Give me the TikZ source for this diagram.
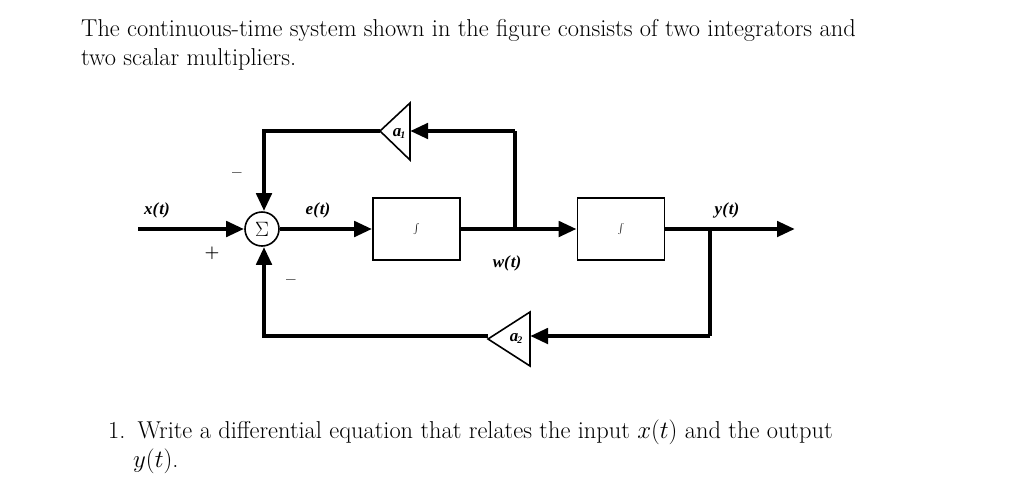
\documentclass[tikz,border=0pt]{standalone}
\usepackage{fontspec}
\newfontfamily\lbl{Liberation Serif}
\usetikzlibrary{arrows.meta}
\begin{document}
\begin{tikzpicture}[x=1pt,y=-1pt,
  wire/.style={line width=4.5pt},
  arr/.style={wire,-{Triangle[length=18pt,width=15pt]}},
  blk/.style={draw,line width=1.6pt,minimum width=87pt,minimum height=62pt,inner sep=0pt},
  gain/.style={draw,line width=1.6pt,fill=white},
  lab/.style={font=\lbl\bfseries\itshape\fontsize{17}{17}\selectfont,inner sep=0pt},
  body/.style={anchor=base west,inner sep=0pt,font=\fontsize{24.4}{28}\selectfont}]
\useasboundingbox (0,0) rectangle (1024,477);
\node[body] (t1) at (81,36) {The continuous-time system shown in the figure consists of two integrators and};
\node[body] (t2) at (81,65) {two scalar multipliers.};
\node[body] (q1) at (108,438) {1.\enspace Write a differential equation that relates the input $x(t)$ and the output};
\node[body] (q2) at (133,467) {$y(t)$.};
% blocks
\node[circle,draw,line width=1.6pt,minimum size=34pt,inner sep=0pt] (s) at (262,229) {\fontsize{20}{20}\selectfont$\Sigma$};
\node[blk] (i1) at (416.5,229) {\fontsize{40}{40}\selectfont$\int$};
\node[blk] (i2) at (621,229) {\fontsize{40}{40}\selectfont$\int$};
\coordinate (xin) at (138,229);
\coordinate (yout) at (795,229);
\coordinate (w) at (515,229);
\coordinate (wt) at (515,131);
\coordinate (yb) at (710,229);
\coordinate (ybb) at (710,336);
\coordinate (tl) at (264,131);
\coordinate (bl) at (264,336);
% gains
\draw[gain] (410,103) -- (410,160) -- (380,131) -- cycle;
\coordinate (a1b) at (410,131); \coordinate (a1t) at (380,131);
\node[lab] at (399,133) {a\kern-1pt\raisebox{-2pt}{\fontsize{10}{10}\selectfont 1}};
\draw[gain] (530,312) -- (530,366) -- (488,339) -- cycle;
\coordinate (a2b) at (530,336); \coordinate (a2t) at (488,336);
\node[lab] at (516,338) {a\kern-1pt\raisebox{-2pt}{\fontsize{10}{10}\selectfont 2}};
% wires
\draw[arr] (xin) -- (s.west);
\draw[arr] (s.east) -- (i1.west);
\draw[arr] (i1.east) -- (i2.west);
\draw[arr] (i2.east) -- (yout);
\draw[wire] (w) -- (wt);
\draw[arr] (wt) -- (a1b);
\draw[arr] (a1t) -- (tl) -- (tl|-s.north);
\draw[wire] (yb) -- (ybb);
\draw[arr] (ybb) -- (a2b);
\draw[arr] (a2t) -- (bl) -- (bl|-s.south);
% labels
\node[lab] at (157,210) {x(\kern1pt t)};
\node[lab] at (318,210) {e(\kern1pt t)};
\node[lab] at (507,263) {w(\kern1pt t)};
\node[lab] at (727,210) {y(\kern1pt t)};
\node[lab,font=\bfseries\fontsize{17}{17}\selectfont] at (212,253) {+};
\node[lab,font=\bfseries\fontsize{17}{17}\selectfont] at (237,175) {--};
\node[lab,font=\bfseries\fontsize{17}{17}\selectfont] at (291,282) {--};
\end{tikzpicture}
\end{document}
